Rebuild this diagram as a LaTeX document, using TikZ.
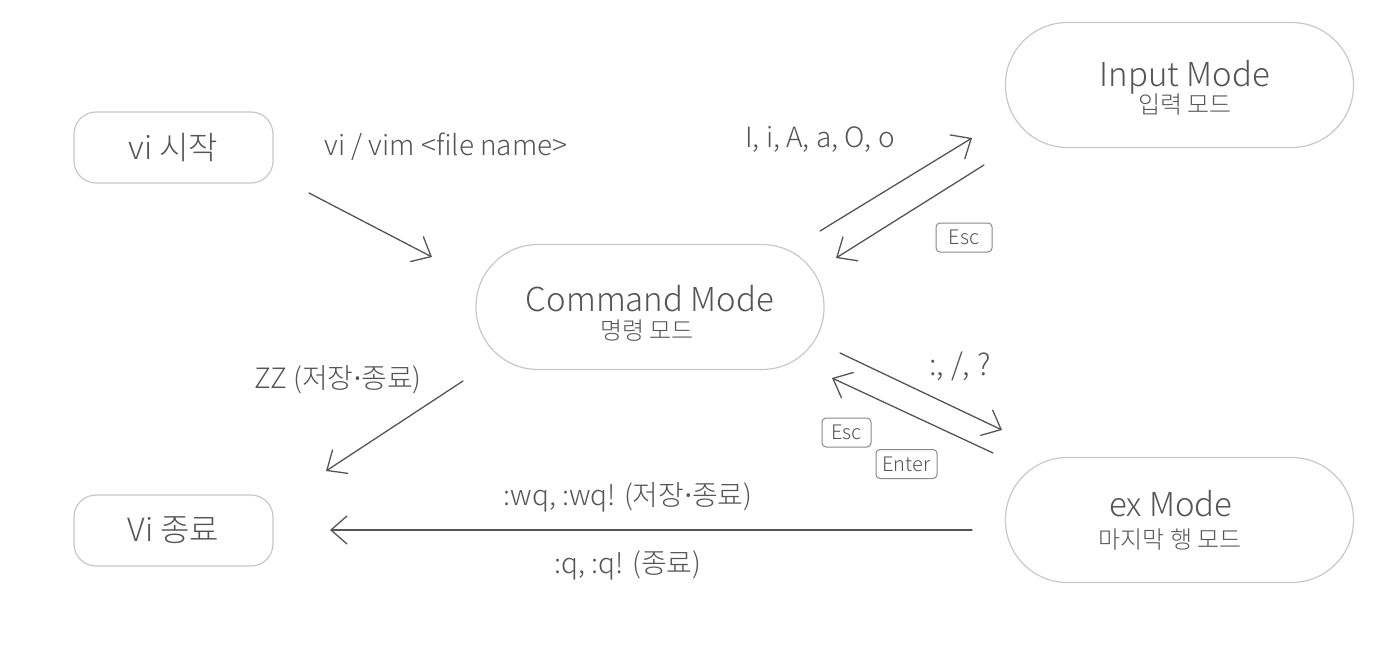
\documentclass[tikz,border=0pt]{standalone}
\usepackage{fontspec}
\IfFontExistsTF{Noto Sans CJK KR Light}{\setmainfont{Noto Sans CJK KR Light}}{\setmainfont{Noto Sans CJK KR}}
\newfontfamily\dotfont{Noto Sans}
\usetikzlibrary{arrows.meta}
\definecolor{txt}{HTML}{555555}
\definecolor{linec}{HTML}{555555}
\definecolor{boxc}{HTML}{C8C8C8}
\definecolor{keyc}{HTML}{8A8A8A}
\newcommand{\fsz}[1]{\fontsize{#1pt}{#1pt}\selectfont}
\newcommand{\mdot}{{\dotfont ·}}
\begin{document}
\begin{tikzpicture}[x=1pt,y=-1pt,
  startbox/.style={draw=boxc, line width=1.2pt, rounded corners=22pt, minimum width=199pt, minimum height=71pt, inner sep=0pt, text=txt, font=\fsz{32}},
  modebox/.style={draw=boxc, line width=1.2pt, rounded corners=62pt, minimum width=348pt, minimum height=125pt, inner sep=0pt},
  title/.style={anchor=base, text=txt, font=\fsz{33}, inner sep=0pt},
  sub/.style={anchor=base, text=txt, font=\fsz{24}, inner sep=0pt},
  lab/.style={anchor=base, text=txt, font=\fsz{28}, inner sep=0pt},
  keybox/.style={draw=keyc, line width=1pt, rounded corners=4pt, text=txt, font=\fsz{20}, inner sep=0pt, minimum height=29pt},
  conn/.style={draw=linec, line width=1.3pt, line cap=round, -{Straight Barb[length=16pt,width=28pt,line cap=round]}}
]
\fill[white] (0,0) rectangle (1400,653);
\useasboundingbox (0,0) rectangle (1400,653);

% nodes
\node[startbox] (start) at (173.5,147.5) {vi 시작};
\node[startbox] (quit) at (173.5,530.5) {Vi 종료};
\node[modebox] (cmd) at (650,307) {};
\node[modebox] (input) at (1179.5,85) {};
\node[modebox] (ex) at (1179.5,520) {};

\node[title] (cmdT) at (650,311) {Command Mode};
\node[sub] (cmdS) at (647,339) {명령 모드};
\node[title] (inputT) at (1185,86) {Input Mode};
\node[sub] (inputS) at (1185,113) {입력 모드};
\node[title] (exT) at (1171,516) {ex Mode};
\node[sub] (exS) at (1170,548) {마지막 행 모드};

% key boxes
\node[keybox, minimum width=56pt] (esc1) at (964,237.5) {Esc};
\node[keybox, minimum width=49pt] (esc2) at (846.5,432.5) {Esc};
\node[keybox, minimum width=61pt] (enter) at (906.5,464) {Enter};

% labels
\node[lab] (lvim) at (446,155) {vi / vim <file name>};
\node[lab] (lins) at (820,147) {I, i, A, a, O, o};
\node[lab, font=\fsz{30}] (lex) at (960,375) {:, /, ?};
\node[lab] (lzz) at (338,388) {ZZ (저장\mdot 종료)};
\node[lab] (lwq) at (628,505) {:wq, :wq! (저장\mdot 종료)};
\node[lab] (lq) at (628,573) {:q, :q! (종료)};

% connector end points
\coordinate (a1s) at (309,193);  \coordinate (a1e) at (432,257);
\coordinate (a2s) at (820,231);  \coordinate (a2e) at (972,138);
\coordinate (a3s) at (984,165);  \coordinate (a3e) at (836,258);
\coordinate (a4s) at (840,353);  \coordinate (a4e) at (1002,430);
\coordinate (a5s) at (993,453);  \coordinate (a5e) at (832,378);
\coordinate (a6s) at (463,381);  \coordinate (a6e) at (326,471);
\coordinate (a7s) at (972,530);  \coordinate (a7e) at (330,530);

\draw[conn] (a1s) -- (a1e);
\draw[conn] (a2s) -- (a2e);
\draw[conn] (a3s) -- (a3e);
\draw[conn] (a4s) -- (a4e);
\draw[conn] (a5s) -- (a5e);
\draw[conn] (a6s) -- (a6e);
\draw[conn] (a7s) -- (a7e);
\end{tikzpicture}
\end{document}
